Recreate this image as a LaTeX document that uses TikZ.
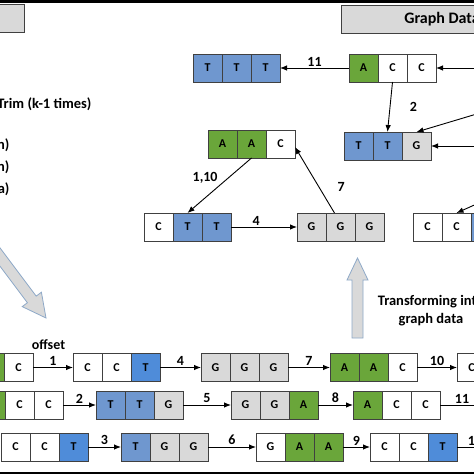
\documentclass[tikz,border=0pt]{standalone}
\usepackage{fontspec}
\setmainfont{Carlito}
\usetikzlibrary{arrows.meta, positioning, calc}

\definecolor{kblue}{HTML}{6F97CF}
\definecolor{kbright}{HTML}{4F8CD9}
\definecolor{kgreen}{HTML}{6AA63A}
\definecolor{kgray}{HTML}{D9D9D9}
\definecolor{kline}{HTML}{404040}
\definecolor{arrowline}{HTML}{8EA9C8}

\tikzset{
  cell/.style={draw=kline, line width=0.8pt, minimum width=29pt, minimum height=28pt,
    inner sep=0pt, outer sep=0pt, font=\bfseries\fontsize{12}{12}\selectfont},
  cA/.style={fill=kgreen},
  cC/.style={fill=white},
  cG/.style={fill=kgray},
  cT/.style={fill=kblue},
  cTb/.style={fill=kbright},
  link/.style={line width=0.9pt, -{Latex[length=7pt,width=5.5pt]}},
  lbl/.style={font=\bfseries\fontsize{14}{14}\selectfont, inner sep=1.5pt},
  bigtext/.style={font=\bfseries\fontsize{14.5}{18}\selectfont},
  blockarrow/.style={fill=kgray, draw=arrowline, line width=0.8pt},
}

% k-mer box: name, left end, list of style/letter
\newcommand{\kmer}[3]{%
  \coordinate (#1) at (#2);
  \foreach \s/\l [count=\i] in {#3}
    \node[cell, \s] (#1-\i) at ($(#1)+(29*\i-14.5,0)$) {\l};
}

\begin{document}
\begin{tikzpicture}[x=1pt, y=-1pt]
    \useasboundingbox (0,0) rectangle (474,474);
    \clip (0,0) rectangle (474,474);
    \fill[white] (0,0) rectangle (474,474);

    % Frame bars
    \fill[black] (0,0) rectangle (474,2.5);
    \fill[black] (0,471.5) rectangle (474,474);

    % Header boxes
    \filldraw[fill=kgray, draw=kline, line width=0.8pt] (-5,4) rectangle (24,32);
    \node[draw=kline, fill=kgray, line width=0.8pt, minimum width=202pt, minimum height=28pt,
      font=\bfseries\fontsize{16}{16}\selectfont] (gdata) at (442,19) {Graph Data};

    % Left side texts
    \node[bigtext, anchor=east] (trim) at (95,104) {Trim (k-1 times)};
    \node[bigtext, anchor=east] (t1) at (13,145) {n)};
    \node[bigtext, anchor=east] (t2) at (13,167) {n)};
    \node[bigtext, anchor=east] (t3) at (13,189) {a)};

    % Graph data k-mers
    \kmer{ttt}{193,68}{cT/T, cT/T, cT/T}
    \kmer{acc}{349,68}{cA/A, cC/C, cC/C}
    \kmer{ttg}{344,146}{cT/T, cT/T, cG/G}
    \kmer{aac}{208,144}{cA/A, cA/A, cC/C}
    \kmer{ctt}{144,227}{cC/C, cT/T, cT/T}
    \kmer{ggg}{297,227}{cG/G, cG/G, cG/G}
    \kmer{ccx}{413,227}{cC/C, cC/C, cT/T}

    % Loose ends from the right
    \coordinate (in1) at (490,68);
    \coordinate (in2) at (490,110);
    \coordinate (in3) at (490,146);
    \coordinate (in4) at (490,198);

    % Graph edges
    \draw[link] (acc-1.west) -- (ttt-3.east) node[lbl, midway, above] {11};
    \draw[link] (acc-2.south) -- (ttg-2.north) node[lbl, midway, right=18pt] {2};
    \draw[link] (aac-2.south) -- (ctt-2.north) node[lbl, midway, above left] {1,10};
    \draw[link] (ctt-3.east) -- (ggg-1.west) node[lbl, pos=0.38, above] {4};
    \draw[link] ([xshift=-6pt]ggg-2.north) -- ([yshift=-3pt]aac-3.east) node[lbl, pos=0.4, right=17pt] {7};
    \draw[link] (in1) -- (acc-3.east);
    \draw[link] (in2) -- (ttg-3.north);
    \draw[link] (in3) -- (ttg-3.east);
    \draw[link] (in4) -- (ccx-2.north);

    % Block arrows
    \filldraw[blockarrow] (-20.6,238.7) -- (27.4,302.7) -- (22.2,306.6) -- (46,318)
      -- (41.4,292.2) -- (36.2,296.1) -- (-11.8,232.1) -- cycle;
    \filldraw[blockarrow] (352,338) -- (352,280) -- (347,280) -- (357.5,258)
      -- (368,280) -- (363,280) -- (363,338) -- cycle;
    \node[bigtext, align=center] (transform) at (431,311) {Transforming into\\graph data};

    % Offset label
    \node[font=\bfseries\fontsize{14}{14}\selectfont] (offset) at (48.5,345) {offset};

    % Row 1
    \kmer{r1a}{-54,367.5}{cA/A, cA/A, cC/C}
    \kmer{r1b}{73,367.5}{cC/C, cC/C, cTb/T}
    \kmer{r1c}{201,367.5}{cG/G, cG/G, cG/G}
    \kmer{r1d}{330,367.5}{cA/A, cA/A, cC/C}
    \kmer{r1e}{457,367.5}{cC/C, cC/C, cT/T}
    \draw[link] (r1a-3.east) -- (r1b-1.west) node[lbl, midway, above] {1};
    \draw[link] (r1b-3.east) -- (r1c-1.west) node[lbl, midway, above] {4};
    \draw[link] (r1c-3.east) -- (r1d-1.west) node[lbl, midway, above] {7};
    \draw[link] (r1d-3.east) -- (r1e-1.west) node[lbl, midway, above] {10};

    % Row 2
    \kmer{r2a}{-24,405}{cA/A, cC/C, cC/C}
    \kmer{r2b}{96,405}{cT/T, cT/T, cG/G}
    \kmer{r2c}{231,405}{cG/G, cG/G, cA/A}
    \kmer{r2d}{353,405}{cA/A, cC/C, cC/C}
    \coordinate (out2) at (484,405);
    \draw[link] (r2a-3.east) -- (r2b-1.west) node[lbl, midway, above] {2};
    \draw[link] (r2b-3.east) -- (r2c-1.west) node[lbl, midway, above] {5};
    \draw[link] (r2c-3.east) -- (r2d-1.west) node[lbl, midway, above] {8};
    \draw[link] (r2d-3.east) -- (out2) node[lbl, midway, above] {11};

    % Row 3
    \kmer{r3a}{1,447}{cC/C, cC/C, cTb/T}
    \kmer{r3b}{121,447}{cT/T, cG/G, cG/G}
    \kmer{r3c}{256,447}{cC/G, cA/A, cA/A}
    \kmer{r3d}{370,447}{cC/C, cC/C, cTb/T}
    \coordinate (out3) at (493,447);
    \draw[link] (r3a-3.east) -- (r3b-1.west) node[lbl, midway, above] {3};
    \draw[link] (r3b-3.east) -- (r3c-1.west) node[lbl, midway, above] {6};
    \draw[link] (r3c-3.east) -- (r3d-1.west) node[lbl, midway, above] {9};
    \draw[link] (r3d-3.east) -- (out3) node[lbl, midway, above] {12};
\end{tikzpicture}
\end{document}
